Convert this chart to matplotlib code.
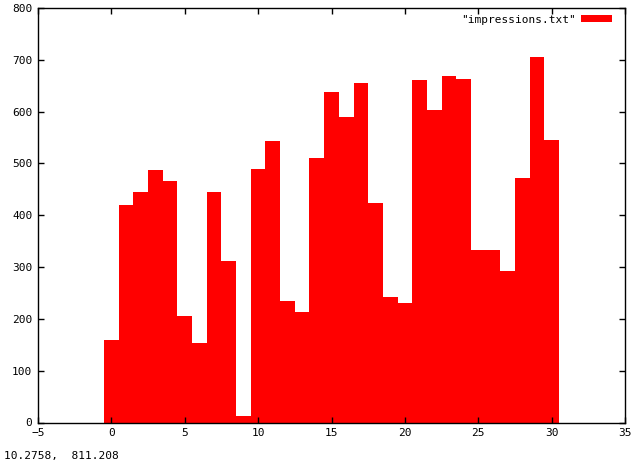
import matplotlib.pyplot as plt

x = list(range(31))
impressions = [160, 419, 444, 487, 466, 205, 153, 444, 311, 12,
               489, 543, 234, 213, 510, 638, 590, 655, 423, 243,
               230, 661, 603, 669, 663, 332, 332, 292, 471, 705, 545]

plt.rcParams['font.family'] = 'DejaVu Sans Mono'
plt.rcParams['font.size'] = 8

fig = plt.figure(figsize=(6.4, 4.63), dpi=100)
ax = fig.add_axes([38 / 640, 40.5 / 463, 587 / 640, 414.5 / 463])

ax.bar(x, impressions, width=1.0, color='#ff0000', align='center',
       label='"impressions.txt"', linewidth=0)

ax.set_xlim(-5, 35)
ax.set_ylim(0, 800)
ax.set_xticks(range(-5, 36, 5))
ax.set_yticks(range(0, 801, 100))
ax.tick_params(direction='in', top=True, right=True, length=4, width=1, pad=4)
for s in ax.spines.values():
    s.set_linewidth(1)

# gnuplot-style key: text then a filled sample, top right
ax.legend(loc='upper right', bbox_to_anchor=(0.985, 0.995), frameon=False,
          markerfirst=False, handlelength=2.8, handleheight=0.55,
          handletextpad=0.4, borderaxespad=0.0)

fig.text(4 / 640, 4 / 463, '10.2758,  811.208', fontsize=8)

fig.savefig('out.png', dpi=100)
